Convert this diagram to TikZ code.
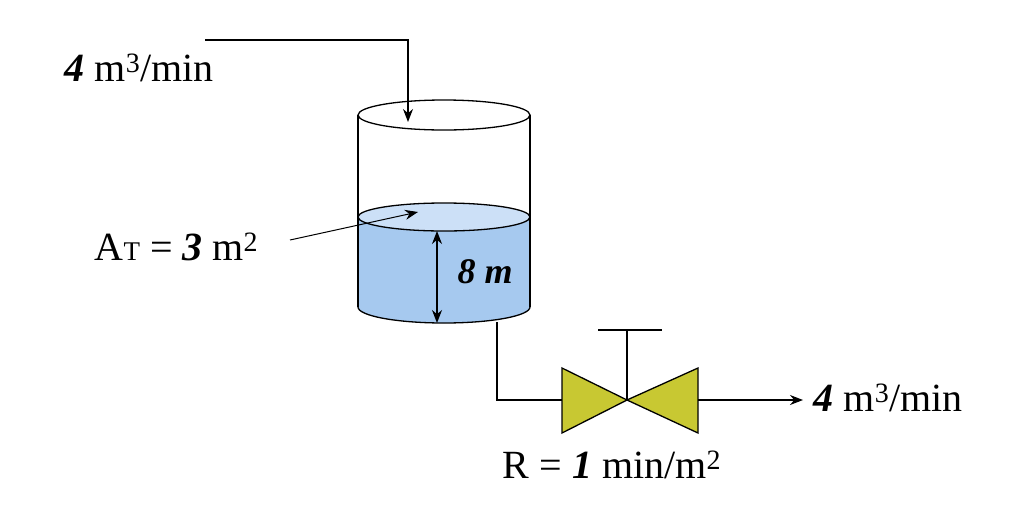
\documentclass[tikz,border=0pt]{standalone}
\usepackage{fontspec}
\setmainfont{Liberation Serif}
\usetikzlibrary{arrows.meta}
\begin{document}
\begin{tikzpicture}[x=1pt,y=-1pt,line width=1.3pt,
  lbl/.style={font=\fontsize{40}{44}\selectfont,inner sep=0pt},
  arr/.style={-{Stealth[length=13pt,width=10pt]}},
  valve/.style={fill=valveyellow,draw=black}]
\definecolor{waterdark}{HTML}{A6C9EF}
\definecolor{waterlight}{HTML}{CCE0F7}
\definecolor{valveyellow}{HTML}{C8C832}
\useasboundingbox (0,0) rectangle (1014,512);
% tank water
\fill[waterdark] (358,217) -- (358,307) arc[start angle=180,end angle=0,x radius=86,y radius=16] -- (530,217) -- cycle;
\draw (358,307) arc[start angle=180,end angle=0,x radius=86,y radius=16];
\draw[fill=waterlight] (444,217) ellipse[x radius=86,y radius=14];
\draw (358,115) -- (358,307) (530,115) -- (530,307);
\draw (444,115) ellipse[x radius=86,y radius=15];
% inlet
\coordinate (in0) at (205,40);
\coordinate (in1) at (408,122);
\draw[arr] (in0) -- (408,40) -- (in1);
\node[lbl,anchor=west] (qin) at (64,68) {\textbf{\textit{4}} m\textsuperscript{3}/min};
% area
\node[lbl,anchor=west] (at) at (94,247) {A{\fontsize{27}{30}\selectfont T} = \textbf{\textit{3}} m\textsuperscript{2}};
\coordinate (a0) at (290,240);
\coordinate (a1) at (418,212);
\draw[arr,line width=1pt] (a0) -- (a1);
% height
\coordinate (h0) at (437,231);
\coordinate (h1) at (437,323);
\draw[{Stealth[length=13pt,width=10pt]}-{Stealth[length=13pt,width=10pt]}] (h0) -- (h1);
\node[lbl,font=\fontsize{36}{40}\selectfont] (hh) at (485,272) {\textbf{\textit{8 m}}};
% outlet
\draw (497,322) -- (497,400) -- (562,400);
\draw[valve] (562,368) -- (627,400) -- (562,433) -- cycle;
\draw[valve] (698,368) -- (627,400) -- (698,433) -- cycle;
\draw (627,400) -- (627,330) (598,330) -- (662,330);
\coordinate (o1) at (803,400);
\draw[arr] (698,400) -- (o1);
\node[lbl,anchor=west] (qout) at (813,398) {\textbf{\textit{4}} m\textsuperscript{3}/min};
\node[lbl] (r) at (612,465) {R = \textbf{\textit{1}} min/m\textsuperscript{2}};
\end{tikzpicture}
\end{document}
